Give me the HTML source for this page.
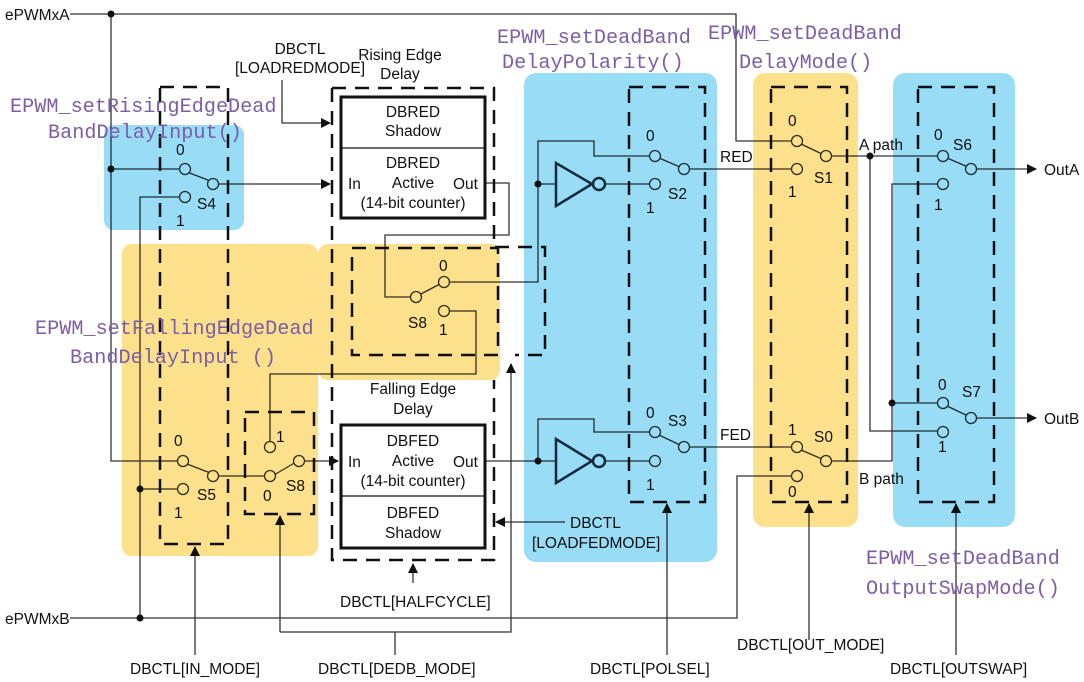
<!DOCTYPE html>
<html><head><meta charset="utf-8"><style>
html,body{margin:0;padding:0;background:#fff;}
svg{display:block;}
text{font-family:"Liberation Sans",sans-serif;font-size:15.5px;fill:#111;}
.m{font-family:"Liberation Mono",monospace;font-size:20.2px;fill:#7b5ea7;}
.c{text-anchor:middle;}
.ov rect{mix-blend-mode:multiply;}
</style></head><body>
<svg width="1084" height="682" viewBox="0 0 1084 682" xmlns="http://www.w3.org/2000/svg">
<defs>
<marker id="a" markerWidth="10" markerHeight="10" refX="9" refY="5" orient="auto" markerUnits="userSpaceOnUse"><path d="M0,0 L10,5 L0,10 z" fill="#111"/></marker>
</defs>
<g stroke="#333" stroke-width="1.3" fill="none">
<path d="M70,14 H736 V141 H791"/>
<path d="M111,14 V461 H177"/>
<path d="M111,169 H179"/>
<path d="M219,184 H330" marker-end="url(#a)"/>
<path d="M179,197 H140 V618"/>
<path d="M140,489 H177"/>
<path d="M70,618 H737 V476 H791"/>
<path d="M219,476 H264"/>
<path d="M305,461 H338" marker-end="url(#a)"/>
<path d="M270,441 V374 H476 V311 H438"/>
<path d="M485,183 H509 V235 H385 V297 H410"/>
<path d="M450,282 H538 V141 H594 V156 H649"/>
<path d="M538,184 H556"/>
<path d="M604,184 H649"/>
<path d="M690,169 H791"/>
<path d="M485,461 H556"/>
<path d="M538,461 V419 H594 V432 H649"/>
<path d="M604,461 H649"/>
<path d="M690,447 H791"/>
<path d="M832,156 H937"/>
<path d="M870,156 V431 H937"/>
<path d="M832,461 H892 V184 H937"/>
<path d="M892,403 H937"/>
<path d="M977,169 H1036" marker-end="url(#a)"/>
<path d="M977,418 H1036" marker-end="url(#a)"/>
<path d="M282,80 V123 H330" marker-end="url(#a)"/>
<path d="M195,655 V547" marker-end="url(#a)"/>
<path d="M280,632 V516" marker-end="url(#a)"/>
<path d="M280,632 H511 V364" marker-end="url(#a)"/>
<path d="M395,632 V655"/>
<path d="M413,583 V564" marker-end="url(#a)"/>
<path d="M565,522 H496" marker-end="url(#a)"/>
<path d="M667,655 V504" marker-end="url(#a)"/>
<path d="M809,640 V504" marker-end="url(#a)"/>
<path d="M956,655 V504" marker-end="url(#a)"/>
<path d="M187,172 L213,182"/>
<path d="M187,464 L213,474"/>
<path d="M274,475 L296,462"/>
<path d="M419,295 L440,284"/>
<path d="M659,158 L680,167"/>
<path d="M659,435 L680,445"/>
<path d="M801,144 L822,154"/>
<path d="M801,450 L822,459"/>
<path d="M947,158 L968,167"/>
<path d="M947,406 L968,416"/>
</g>
<g stroke="#1a3040" stroke-width="2.5" fill="none">
<path d="M556,163 L556,206 L592,184 Z"/>
<circle cx="599" cy="184" r="6" fill="#fff"/>
<path d="M556,439 L556,483 L592,461 Z"/>
<circle cx="599" cy="461" r="6" fill="#fff"/>
</g>
<g fill="#111">
<circle cx="111" cy="14" r="3.5"/><circle cx="111" cy="169" r="3.5"/><circle cx="140" cy="489" r="3.5"/><circle cx="140" cy="618" r="3.5"/>
<circle cx="538" cy="184" r="3.5"/><circle cx="538" cy="461" r="3.5"/><circle cx="870" cy="156" r="3.5"/><circle cx="892" cy="403" r="3.5"/>
</g>
<g stroke="#333" stroke-width="1.3" fill="#fff">
<circle cx="185" cy="169" r="5.5"/><circle cx="213" cy="184" r="5.5"/><circle cx="185" cy="197" r="5.5"/>
<circle cx="183" cy="461" r="5.5"/><circle cx="213" cy="476" r="5.5"/><circle cx="183" cy="489" r="5.5"/>
<circle cx="270" cy="447" r="5.5"/><circle cx="270" cy="476" r="5.5"/><circle cx="299" cy="461" r="5.5"/>
<circle cx="416" cy="297" r="5.5"/><circle cx="444" cy="282" r="5.5"/><circle cx="444" cy="311" r="5.5"/>
<circle cx="655" cy="156" r="5.5"/><circle cx="684" cy="169" r="5.5"/><circle cx="655" cy="184" r="5.5"/>
<circle cx="655" cy="432" r="5.5"/><circle cx="684" cy="447" r="5.5"/><circle cx="655" cy="461" r="5.5"/>
<circle cx="797" cy="141" r="5.5"/><circle cx="826" cy="156" r="5.5"/><circle cx="797" cy="169" r="5.5"/>
<circle cx="797" cy="447" r="5.5"/><circle cx="826" cy="461" r="5.5"/><circle cx="797" cy="476" r="5.5"/>
<circle cx="943" cy="156" r="5.5"/><circle cx="971" cy="169" r="5.5"/><circle cx="943" cy="184" r="5.5"/>
<circle cx="943" cy="403" r="5.5"/><circle cx="971" cy="418" r="5.5"/><circle cx="943" cy="432" r="5.5"/>
</g>
<g stroke="#111" stroke-width="2.5" fill="none" stroke-dasharray="14,9">
<rect x="160" y="87" width="68" height="457"/>
<rect x="245" y="412" width="69" height="102"/>
<path d="M332,88 V560 H494 V380"/>
<path d="M332,88 H494 V247 H545 V355 H515"/>
<rect x="352" y="248" width="146" height="107"/>
<rect x="629" y="87" width="76" height="415"/>
<rect x="771" y="87" width="76" height="415"/>
<rect x="918" y="87" width="76" height="415"/>
</g>
<g stroke="#111" fill="#fff">
<rect x="341" y="97" width="144" height="121" stroke-width="3"/>
<line x1="341" y1="148" x2="485" y2="148" stroke-width="1.2"/>
<rect x="341" y="425" width="144" height="123" stroke-width="3"/>
<line x1="341" y1="496" x2="485" y2="496" stroke-width="1.2"/>
</g>
<text class="c" x="413" y="117">DBRED</text><text class="c" x="413" y="136">Shadow</text>
<text class="c" x="413" y="168">DBRED</text><text x="348" y="189">In</text><text class="c" x="413" y="188">Active</text><text x="453" y="189">Out</text><text class="c" x="413" y="208">(14-bit counter)</text>
<text class="c" x="413" y="446">DBFED</text><text x="348" y="467">In</text><text class="c" x="413" y="466">Active</text><text x="453" y="467">Out</text><text class="c" x="413" y="486">(14-bit counter)</text>
<text class="c" x="413" y="518">DBFED</text><text class="c" x="413" y="538">Shadow</text>
<text class="c" x="400" y="60">Rising Edge</text><text class="c" x="400" y="79">Delay</text>
<text class="c" x="413" y="394">Falling Edge</text><text class="c" x="413" y="414">Delay</text>
<text class="c" x="300" y="54">DBCTL</text><text class="c" x="300" y="73">[LOADREDMODE]</text>
<text x="5" y="20">ePWMxA</text><text x="5" y="624">ePWMxB</text>
<text x="1044" y="175">OutA</text><text x="1044" y="424">OutB</text>
<text x="720" y="162">RED</text><text x="720" y="440">FED</text>
<text x="859" y="150">A path</text><text x="859" y="484">B path</text>
<text x="176" y="155">0</text><text x="197" y="209">S4</text><text x="176" y="226">1</text>
<text x="174" y="446">0</text><text x="197" y="500">S5</text><text x="174" y="518">1</text>
<text x="276" y="442">1</text><text x="263" y="501">0</text><text x="286" y="491">S8</text>
<text x="439" y="271">0</text><text x="408" y="328">S8</text><text x="439" y="335">1</text>
<text x="646" y="141">0</text><text x="668" y="199">S2</text><text x="646" y="213">1</text>
<text x="646" y="418">0</text><text x="668" y="426">S3</text><text x="646" y="490">1</text>
<text x="788" y="126">0</text><text x="814" y="183">S1</text><text x="788" y="197">1</text>
<text x="788" y="435">1</text><text x="814" y="442">S0</text><text x="788" y="497">0</text>
<text x="934" y="140">0</text><text x="953" y="150">S6</text><text x="934" y="210">1</text>
<text x="938" y="390">0</text><text x="962" y="397">S7</text><text x="938" y="452">1</text>
<text x="130" y="674">DBCTL[IN_MODE]</text>
<text x="318" y="674">DBCTL[DEDB_MODE]</text>
<text x="340" y="607">DBCTL[HALFCYCLE]</text>
<text x="570" y="528">DBCTL</text><text x="532" y="548">[LOADFEDMODE]</text>
<text x="590" y="674">DBCTL[POLSEL]</text>
<text x="737" y="650">DBCTL[OUT_MODE]</text>
<text x="890" y="674">DBCTL[OUTSWAP]</text>
<g class="ov">
<rect x="104" y="125" width="140" height="105" rx="10" fill="#98dcf6"/>
<rect x="122" y="244" width="196" height="312" rx="10" fill="#fde08b"/>
<rect x="318" y="244" width="182" height="136" rx="10" fill="#fde08b"/>
<rect x="524" y="73" width="193" height="489" rx="12" fill="#98dcf6"/>
<rect x="753" y="73" width="105" height="454" rx="12" fill="#fde08b"/>
<rect x="893" y="73" width="122" height="454" rx="12" fill="#98dcf6"/>
</g>
<text class="m" x="10" y="112">EPWM_setRisingEdgeDead</text>
<text class="m" x="48" y="138">BandDelayInput()</text>
<text class="m" x="35" y="334">EPWM_setFallingEdgeDead</text>
<text class="m" x="70" y="363">BandDelayInput ()</text>
<text class="m" x="497" y="43">EPWM_setDeadBand</text>
<text class="m" x="502" y="68">DelayPolarity()</text>
<text class="m" x="708" y="39">EPWM_setDeadBand</text>
<text class="m" x="739" y="68">DelayMode()</text>
<text class="m" x="866" y="564">EPWM_setDeadBand</text>
<text class="m" x="866" y="594">OutputSwapMode()</text>
</svg>
</body></html>
